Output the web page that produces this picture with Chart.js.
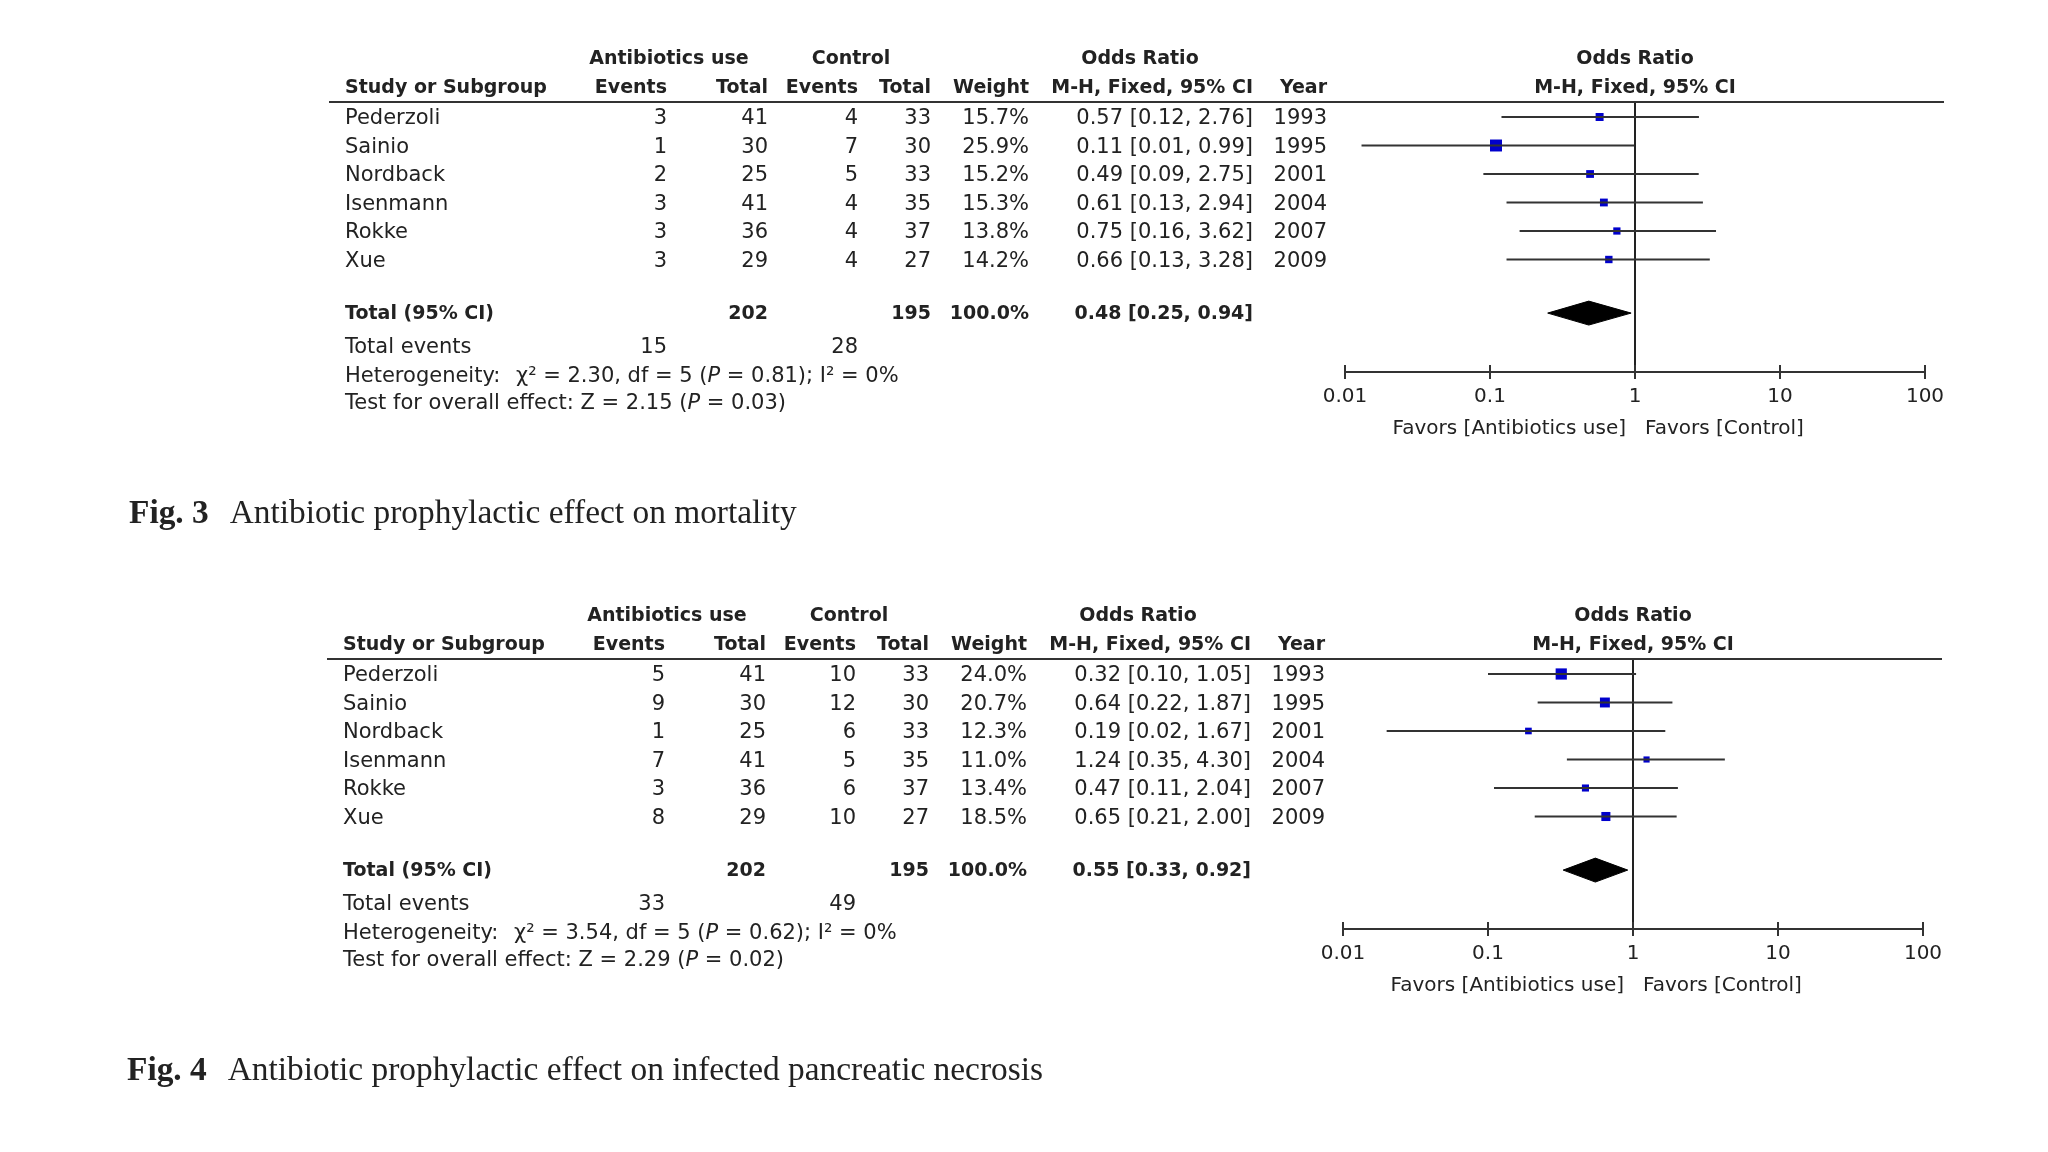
<!DOCTYPE html>
<html><head><meta charset="utf-8">
<script src="https://cdn.jsdelivr.net/npm/chart.js@4.4.1/dist/chart.umd.min.js"></script>
<style>
html,body{margin:0;padding:0;background:#fff;width:2048px;height:1152px;overflow:hidden}
.panel{position:absolute;width:2048px}
</style></head><body>
<div class="panel" style="top:0;left:0;height:557px"><canvas id="c1"></canvas></div>
<div class="panel" style="top:557px;left:-2px;height:595px"><canvas id="c2"></canvas></div>
<script>
// ---------- data ----------
const studies = ['Pederzoli','Sainio','Nordback','Isenmann','Rokke','Xue'];
const years = [1993,1995,2001,2004,2007,2009];
const abxTotal = [41,30,25,41,36,29];
const ctlTotal = [33,30,33,35,37,27];

// Fig. 3 mortality
const mortAbxEvents = [3,1,2,3,3,3];
const mortCtlEvents = [4,7,5,4,4,4];
const mortWeight = [15.7,25.9,15.2,15.3,13.8,14.2];
const mortOR = [0.57,0.11,0.49,0.61,0.75,0.66];
const mortLo = [0.12,0.013,0.09,0.13,0.16,0.13];
const mortHi = [2.76,0.99,2.75,2.94,3.62,3.28];
const mortTotalOR = [0.48,0.25,0.94];
const mortTotalEvents = [15,28];
const mortHet = ['2.30','5','0.81','0%'];
const mortZ = ['2.15','0.03'];

// Fig. 4 infected pancreatic necrosis
const ipnAbxEvents = [5,9,1,7,3,8];
const ipnCtlEvents = [10,12,6,5,6,10];
const ipnWeight = [24.0,20.7,12.3,11.0,13.4,18.5];
const ipnOR = [0.32,0.64,0.19,1.24,0.47,0.65];
const ipnLo = [0.10,0.22,0.02,0.35,0.11,0.21];
const ipnHi = [1.05,1.87,1.67,4.30,2.04,2.00];
const ipnTotalOR = [0.55,0.33,0.92];
const ipnTotalEvents = [33,49];
const ipnHet = ['3.54','5','0.62','0%'];
const ipnZ = ['2.29','0.02'];

const totals = [202,195];
const tickValues = [0.01,0.1,1,10,100];
const tickLabels = ['0.01','0.1','1','10','100'];
const figLabels = ['Fig. 3','Fig. 4'];
const captions = ['Antibiotic prophylactic effect on mortality','Antibiotic prophylactic effect on infected pancreatic necrosis'];

// ---------- style / layout ----------
const FAM = '"DejaVu Sans", Verdana, sans-serif';
const REG = '21px ' + FAM;
const BOLD = 'bold 19px ' + FAM;
const ITAL = 'italic 21px ' + FAM;
const SERIF = '"Liberation Serif", "Times New Roman", serif';
const TXT = '#222';
const COL = {study:345, ev1:667, tot1:768, ev2:858, tot2:931, wt:1029, orr:1253, yr:1327,
             grp1:669, grp2:851, orHead:1140, lineL:329, lineR:1944, het:516, cap:129};
const ROW = {h1:-2.04, h2:-1.02, totalGap:1.88, events:8.03, het:9.02, test:10.0, caption:13.93};
const BODY_DY = 2;

function fmt(v){ return v.toFixed(2); }

function makePanel(id, height, d, figIdx) {
  const n = studies.length;
  const totalRow = n - 1 + ROW.totalGap;
  const yMin = -0.526, yMax = 8.947;
  const datasets = [];
  // CI lines
  for (let i = 0; i < n; i++) {
    datasets.push({type:'line', data:[{x:d.lo[i], y:i},{x:d.hi[i], y:i}],
      borderColor:'#333', borderWidth:2, pointRadius:0, fill:false});
  }
  // null line
  datasets.push({type:'line', data:[{x:1,y:yMin},{x:1,y:yMax}], borderColor:'#222', borderWidth:2, pointRadius:0, fill:false});
  // squares
  datasets.push({type:'scatter', data:d.or.map((v,i)=>({x:v,y:i})),
    pointStyle:'rect', pointRadius:d.wt.map(w=>0.276*w+1.31), backgroundColor:'#0000cc', borderWidth:0});
  // diamond
  const [to, tl, th] = d.tot;
  datasets.push({type:'line', data:[{x:tl,y:totalRow},{x:to,y:totalRow-0.42},{x:th,y:totalRow},{x:to,y:totalRow+0.42},{x:tl,y:totalRow}],
    borderColor:'#000', backgroundColor:'#000', borderWidth:1, pointRadius:0, fill:'shape', tension:0});

  const plugin = {
    id:'forestText',
    afterDraw(chart){
      const ctx = chart.ctx, xs = chart.scales.x, ys = chart.scales.y, ca = chart.chartArea;
      const Y = v => ys.getPixelForValue(v);
      const t = (s,x,y,align,font) => { ctx.font = font; ctx.textAlign = align; ctx.fillText(s,x,y); };
      const segs = (list,x,y) => { ctx.textAlign='left'; for (const [s,f] of list){ ctx.font=f; ctx.fillText(s,x,y); x += ctx.measureText(s).width; } };
      ctx.save();
      ctx.strokeStyle = '#333'; ctx.lineWidth = 2;
      ctx.beginPath(); ctx.moveTo(COL.lineL, ca.top); ctx.lineTo(COL.lineR, ca.top); ctx.stroke();
      ctx.beginPath();
      tickValues.forEach(v => { const x = xs.getPixelForValue(v); ctx.moveTo(x, ca.bottom-7); ctx.lineTo(x, ca.bottom); });
      ctx.stroke();
      ctx.fillStyle = TXT; ctx.textBaseline = 'middle';
      const one = xs.getPixelForValue(1);
      const h1 = Y(ROW.h1), h2 = Y(ROW.h2);
      t('Antibiotics use', COL.grp1, h1, 'center', BOLD);
      t('Control', COL.grp2, h1, 'center', BOLD);
      t('Odds Ratio', COL.orHead, h1, 'center', BOLD);
      t('Odds Ratio', one, h1, 'center', BOLD);
      t('Study or Subgroup', COL.study, h2, 'left', BOLD);
      t('Events', COL.ev1, h2, 'right', BOLD);
      t('Total', COL.tot1, h2, 'right', BOLD);
      t('Events', COL.ev2, h2, 'right', BOLD);
      t('Total', COL.tot2, h2, 'right', BOLD);
      t('Weight', COL.wt, h2, 'right', BOLD);
      t('M-H, Fixed, 95% CI', COL.orr, h2, 'right', BOLD);
      t('Year', COL.yr, h2, 'right', BOLD);
      t('M-H, Fixed, 95% CI', one, h2, 'center', BOLD);
      for (let i = 0; i < n; i++) {
        const y = Y(i) + BODY_DY;
        t(studies[i], COL.study, y, 'left', REG);
        t(String(d.ae[i]), COL.ev1, y, 'right', REG);
        t(String(abxTotal[i]), COL.tot1, y, 'right', REG);
        t(String(d.ce[i]), COL.ev2, y, 'right', REG);
        t(String(ctlTotal[i]), COL.tot2, y, 'right', REG);
        t(d.wt[i].toFixed(1)+'%', COL.wt, y, 'right', REG);
        t(fmt(d.or[i])+' ['+fmt(d.lo[i])+', '+fmt(d.hi[i])+']', COL.orr, y, 'right', REG);
        t(String(years[i]), COL.yr, y, 'right', REG);
      }
      const yt = Y(totalRow) + 1;
      t('Total (95% CI)', COL.study, yt, 'left', BOLD);
      t(String(totals[0]), COL.tot1, yt, 'right', BOLD);
      t(String(totals[1]), COL.tot2, yt, 'right', BOLD);
      t('100.0%', COL.wt, yt, 'right', BOLD);
      t(fmt(to)+' ['+fmt(tl)+', '+fmt(th)+']', COL.orr, yt, 'right', BOLD);
      const ye = Y(ROW.events) + BODY_DY;
      t('Total events', COL.study, ye, 'left', REG);
      t(String(d.te[0]), COL.ev1, ye, 'right', REG);
      t(String(d.te[1]), COL.ev2, ye, 'right', REG);
      const yh = Y(ROW.het) + BODY_DY;
      t('Heterogeneity:', COL.study, yh, 'left', REG);
      segs([['χ² = '+d.het[0]+', df = '+d.het[1]+' (', REG],['P', ITAL],[' = '+d.het[2]+'); I² = '+d.het[3], REG]], COL.het, yh);
      segs([['Test for overall effect: Z = '+d.z[0]+' (', REG],['P', ITAL],[' = '+d.z[1]+')', REG]], COL.study, Y(ROW.test) + BODY_DY);
      const yf = ca.bottom + 57;
      t('Favors [Antibiotics use]', one-9, yf, 'right', '20px '+FAM);
      t('Favors [Control]', one+10, yf, 'left', '20px '+FAM);
      // caption
      const yc = Y(ROW.caption);
      ctx.font = 'bold 33.4px ' + SERIF; ctx.textAlign='left';
      ctx.fillText(figLabels[figIdx], COL.cap, yc);
      const w = ctx.measureText(figLabels[figIdx]).width;
      ctx.font = '33.4px ' + SERIF;
      ctx.fillText(captions[figIdx], COL.cap + w + 21, yc);
      ctx.restore();
    }
  };

  return new Chart(document.getElementById(id), {
    type:'scatter',
    data:{datasets},
    options:{
      responsive:true, maintainAspectRatio:false, animation:false,
      layout:{padding:{left:1345, right:123, top:102, bottom:height-372-45}},
      plugins:{legend:{display:false}, tooltip:{enabled:false}},
      scales:{
        x:{type:'logarithmic', min:0.01, max:100, position:'bottom',
          afterBuildTicks: s => { s.ticks = tickValues.map(v=>({value:v})); },
          afterFit: s => { s.height = 45; },
          grid:{display:true, drawOnChartArea:false, drawTicks:true, tickLength:7, color:'#333', lineWidth:2},
          border:{display:true, color:'#333', width:2},
          ticks:{autoSkip:false, maxRotation:0, padding:6, color:TXT, font:{family:'DejaVu Sans', size:20},
            callback:(v,i)=>tickLabels[i]}
        },
        y:{type:'linear', reverse:true, min:yMin, max:yMax, display:false}
      }
    },
    plugins:[plugin]
  });
}

makePanel('c1', 557, {ae:mortAbxEvents, ce:mortCtlEvents, wt:mortWeight, or:mortOR, lo:mortLo, hi:mortHi,
  tot:mortTotalOR, te:mortTotalEvents, het:mortHet, z:mortZ}, 0);
makePanel('c2', 595, {ae:ipnAbxEvents, ce:ipnCtlEvents, wt:ipnWeight, or:ipnOR, lo:ipnLo, hi:ipnHi,
  tot:ipnTotalOR, te:ipnTotalEvents, het:ipnHet, z:ipnZ}, 1);
</script>
</body></html>
